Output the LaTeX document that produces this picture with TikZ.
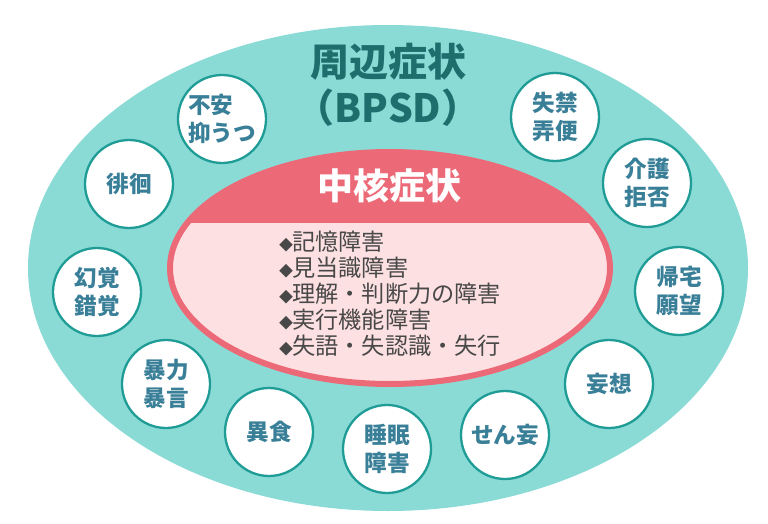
\documentclass[tikz,border=0pt]{standalone}
\usepackage{fontspec}
\setmainfont{Noto Sans CJK JP}
\usetikzlibrary{shapes.geometric}
\definecolor{tealbg}{HTML}{8ADBD5}
\definecolor{ringc}{HTML}{1F9C96}
\definecolor{txtc}{HTML}{3A7F98}
\definecolor{titlec}{HTML}{1F6E6E}
\definecolor{redc}{HTML}{EC6A78}
\definecolor{pinkc}{HTML}{FDE0E2}
\definecolor{bodyc}{HTML}{484848}
\tikzset{
 badge/.style={circle,draw=ringc,line width=2.3pt,fill=white,minimum size=88pt,inner sep=0pt,align=center,text=txtc,font=\fontsize{22.6pt}{28pt}\selectfont\bfseries},
 outerell/.style={ellipse,fill=tealbg,minimum width=720pt,minimum height=486pt,inner sep=0pt},
 innerell/.style={ellipse,fill=pinkc,minimum width=440pt,minimum height=232pt,inner sep=0pt},
 titletxt/.style={text=titlec,font=\fontsize{39pt}{46pt}\selectfont\bfseries,align=center},
 coretxt/.style={text=white,font=\fontsize{36pt}{40pt}\selectfont\bfseries},
 listtxt/.style={text=bodyc,align=left,inner sep=0pt,font=\fontsize{23.2pt}{26pt}\selectfont}
}
\newcommand{\bul}{{\fontsize{14pt}{14pt}\selectfont ◆}}
\begin{document}
\begin{tikzpicture}[x=1pt,y=-1pt]
\useasboundingbox (0,0) rectangle (768,524);
\fill[white] (0,0) rectangle (768,524);
\node[outerell] (outer) at (388,268) {};
\node[innerell] (inner) at (390,268) {};
\begin{scope}
\clip (0,0) rectangle (768,222);
\fill[redc] (inner.center) ellipse [x radius=220pt,y radius=116pt];
\end{scope}
\draw[redc,line width=6pt] (inner.center) ellipse [x radius=220pt,y radius=116pt];
\node[titletxt] (title) at (388,85) {周辺症状\\（BPSD）};
\node[coretxt] (core) at (389,186) {中核症状};
\node[listtxt,anchor=west] (list) at (279,294) {\bul\hspace{-1pt}記憶障害\\\bul\hspace{-1pt}見当識障害\\\bul\hspace{-1pt}理解・判断力の障害\\\bul\hspace{-1pt}実行機能障害\\\bul\hspace{-1pt}失語・失認識・失行};
\node[badge,align=left] (b1) at (222,119) {不安\\抑うつ};
\node[badge] (b2) at (129,184) {徘徊};
\node[badge] (b3) at (97,292) {幻覚\\錯覚};
\node[badge] (b4) at (166,384) {暴力\\暴言};
\node[badge] (b5) at (269,432) {異食};
\node[badge] (b6) at (387,449) {睡眠\\障害};
\node[badge] (b7) at (505,435) {せん妄};
\node[badge] (b8) at (609,384) {妄想};
\node[badge] (b9) at (679,291) {帰宅\\願望};
\node[badge] (b10) at (647,183) {介護\\拒否};
\node[badge] (b11) at (555,117) {失禁\\弄便};
\end{tikzpicture}
\end{document}
